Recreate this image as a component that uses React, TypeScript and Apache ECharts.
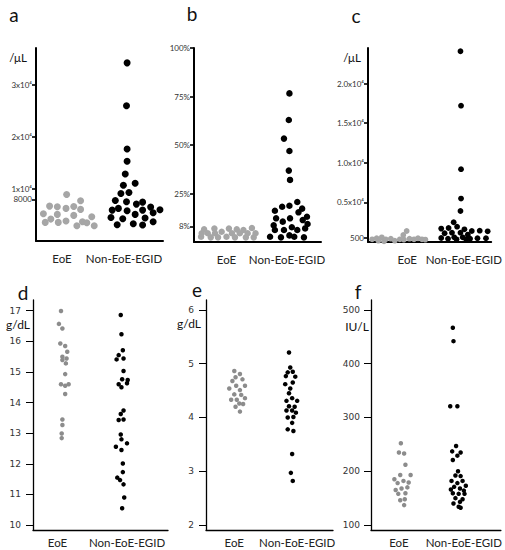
import { useEffect, useRef } from 'react';
import * as echarts from 'echarts';

const categories = ['EoE', 'Non-EoE-EGID'];

// a: leukocytes /uL
const aEoE = [8920, 7700, 6690, 6560, 6630, 6250, 6060, 5220, 5100, 4910, 4650, 4200, 3820, 3570, 3570, 3690, 3500, 2920, 2920];
const aEoEJitter = [0.075, 0.3, -0.2, -0.075, 0.19, 0.065, 0.3, -0.3, -0.075, 0.19, 0.48, -0.18, 0.065, -0.27, -0.06, 0.33, 0.4, 0.24, 0.52];
const aNon = [34150, 25930, 17640, 15290, 12860, 10700, 11080, 9110, 9300, 7770, 7510, 7070, 7450, 5920, 6250, 5790, 5920, 6500, 5980, 4520, 4260, 5100, 4400, 5410, 3120, 3310, 3060, 3690];
const aNonJitter = [0.05, 0.04, 0.05, 0.05, 0.02, -0.01, 0.18, -0.05, 0.08, -0.14, 0.04, 0.2, 0.3, -0.19, -0.09, 0.05, 0.3, 0.43, 0.58, -0.21, -0.02, 0.18, 0.34, 0.47, -0.11, 0.15, 0.3, 0.47];
const aTicks = [8000, 10000, 20000, 30000];
const aTickLabels = ['8000', '1x10⁴', '2x10⁴', '3x10⁴'];

// b: eosinophil %
const bEoE = [2.7, 4.5, 6.5, 4.5, 2.4, 6.9, 4.5, 2.4, 5.3, 2.7, 6.9, 4.5, 2.4, 6.5, 4.5, 6.2, 2.4, 4.5, 7.2, 2.4, 4.5];
const bEoEJitter = [-0.42, -0.41, -0.37, -0.31, -0.26, -0.2, -0.19, -0.14, -0.08, 0, 0.04, 0.09, 0.14, 0.17, 0.22, 0.28, 0.32, 0.35, 0.42, 0.45, 0.48];
const bNon = [76.6, 62.9, 53.3, 46.9, 36.8, 32, 20.6, 18.7, 18.2, 16.1, 17.2, 12.2, 10.5, 12.2, 15.3, 11.3, 13, 9.3, 8.6, 6.2, 6.2, 7.6, 6.2, 7, 2.7, 2.4, 3.4, 2.7, 2.4];
const bNonJitter = [0.04, 0.03, -0.05, 0.04, 0.03, 0.05, 0.17, 0.04, -0.08, -0.2, 0.25, -0.18, -0.07, 0.05, 0.19, 0.26, 0.33, 0.34, -0.22, -0.2, -0.05, 0.08, 0.17, 0.3, -0.28, -0.1, 0.04, 0.12, 0.28];
const bTicks = [8, 25, 50, 75, 100];
const bTickLabels = ['8%', '25%', '50%', '75%', '100%'];

// c: eosinophils /uL
const cEoE = [340, 470, 590, 170, 340, 90, 420, 170, 340, 890, 1390, 420, 340, 470, 340, 300, 300];
const cEoEJitter = [-0.62, -0.54, -0.45, -0.51, -0.38, -0.41, -0.29, -0.22, -0.13, -0.07, -0.01, 0.04, 0.12, 0.19, 0.26, 0.32, -0.06];
const cNon = [24090, 17215, 9200, 5480, 3920, 2490, 1690, 1770, 1940, 1600, 1390, 1430, 1350, 1100, 1180, 1180, 930, 510, 420, 590, 590, 420, 470, 470, 340, 340];
const cNonJitter = [-0.06, -0.05, -0.05, -0.05, -0.06, -0.18, -0.4, -0.27, -0.12, 0.01, 0.14, 0.28, 0.42, -0.34, -0.21, -0.06, 0.07, -0.4, -0.28, -0.17, -0.02, 0.11, 0.24, 0.39, -0.13, 0.04];
const cTicks = [500, 5000, 10000, 15000, 20000];
const cTickLabels = ['500', '0.5x10⁴', '1.0x10⁴', '1.5x10⁴', '2.0x10⁴'];

// d: hemoglobin g/dL
const dEoE = [16.99, 16.57, 16.42, 15.93, 15.85, 15.66, 15.5, 15.44, 15.39, 15.28, 14.93, 14.6, 14.55, 14.6, 14.28, 13.45, 13.27, 12.99, 12.84];
const dEoEJitter = [0.05, 0.02, 0.07, 0.04, 0.11, 0.14, 0.07, 0.13, 0.07, 0.12, 0.11, 0.05, 0.11, 0.16, 0.11, 0.07, 0.07, 0.06, 0.06];
const dNon = [16.86, 16.23, 15.71, 15.55, 15.41, 15.44, 15.03, 14.76, 14.74, 14.6, 14.63, 14.5, 13.74, 13.63, 13.45, 13.43, 12.96, 12.8, 12.67, 12.56, 12.45, 12.01, 11.55, 11.73, 11.47, 11.33, 10.9, 10.55];
const dNonJitter = [-0.09, -0.08, -0.06, -0.12, -0.15, -0.05, -0.05, -0.07, 0.01, -0.12, 0, -0.08, -0.05, -0.09, -0.05, -0.12, -0.09, -0.08, 0, -0.16, -0.08, -0.06, -0.14, -0.06, -0.1, -0.05, -0.04, -0.07];
const dTicks = [10, 11, 12, 13, 14, 15, 16, 17];

// e: albumin g/dL
const eEoE = [4.865, 4.81, 4.68, 4.75, 4.71, 4.54, 4.59, 4.59, 4.51, 4.43, 4.42, 4.36, 4.33, 4.33, 4.26, 4.25, 4.2, 4.11];
const eEoEJitter = [0, 0.09, -0.03, 0.02, 0.13, -0.08, 0.03, 0.17, 0.09, 0, 0.11, 0.17, -0.05, 0.04, 0.08, 0.14, 0.02, 0.09];
const eNon = [5.21, 4.93, 4.84, 4.85, 4.77, 4.76, 4.65, 4.62, 4.54, 4.45, 4.31, 4.36, 4.31, 4.21, 4.2, 4.13, 4.13, 4.09, 4.0, 4.01, 3.9, 3.78, 3.75, 3.32, 2.97, 2.82];
const eNonJitter = [-0.13, -0.11, -0.15, -0.07, -0.18, -0.03, -0.07, -0.19, -0.11, -0.13, -0.17, -0.08, 0, -0.13, -0.04, -0.17, -0.08, -0.02, -0.15, -0.06, -0.08, -0.15, -0.06, -0.08, -0.1, -0.07];
const eTicks = [2, 3, 4, 5, 6];

// f: LDH IU/L
const fEoE = [252, 235, 233, 212, 193, 193, 185, 182, 179, 178, 165, 168, 170, 158, 159, 146, 148, 137];
const fEoEJitter = [0.03, 0, 0.08, 0.1, 0.02, 0.18, -0.07, 0.07, 0.15, -0.02, -0.05, 0.04, 0.13, -0.01, 0.1, 0.02, 0.09, 0.08];
const fNon = [467, 442, 321, 321, 247, 237, 235, 229, 221, 200, 192, 191, 182, 182, 178, 173, 171, 168, 166, 164, 159, 158, 158, 150, 148, 143, 140, 134, 132];
const fNonJitter = [-0.17, -0.16, -0.21, -0.1, -0.12, -0.18, -0.05, -0.1, -0.17, -0.09, -0.13, -0.05, -0.19, -0.02, -0.1, 0.03, -0.15, -0.06, -0.2, 0, -0.17, -0.08, 0.01, -0.13, -0.02, -0.06, -0.16, -0.08, -0.05];
const fTicks = [100, 200, 300, 400, 500];

const topStyle = {
  axisWidth: 2, tickLen: 4, tickFont: 'Lato', tickSize: 8, tickMargin: 4,
  catSize: 11.5, catMargin: 11, dot: 7, gray: '#a6a6a6',
};
const bottomStyle = {
  axisWidth: 1.3, tickLen: 7, tickFont: 'DejaVu Sans', tickSize: 9, tickMargin: 12,
  catSize: 11.5, catMargin: 6, dot: 4.5, gray: '#8c8c8c',
};

type Box = { left: number; top: number; width: number; height: number };

function makePanel(
  idx: number, box: Box, xr: [number, number], yr: [number, number],
  ticks: number[], tickLabels: string[] | null,
  eoe: number[], eoeJ: number[], non: number[], nonJ: number[],
  st: typeof topStyle, dot?: number,
) {
  const size = dot ?? st.dot;
  return {
    grid: { ...box },
    xAxis: {
      type: 'value', gridIndex: idx, min: xr[0], max: xr[1],
      axisLine: { show: true, onZero: false, lineStyle: { color: '#000', width: st.axisWidth } },
      axisTick: { show: false },
      splitLine: { show: false },
      axisLabel: {
        customValues: [0, 1], margin: st.catMargin, color: '#222',
        fontFamily: 'Lato', fontSize: st.catSize,
        formatter: (v: number) => categories[Math.round(v)],
      },
    },
    yAxis: {
      type: 'value', gridIndex: idx, min: yr[0], max: yr[1],
      axisLine: { show: true, onZero: false, lineStyle: { color: '#000', width: st.axisWidth } },
      axisTick: { show: true, customValues: ticks, length: st.tickLen, lineStyle: { color: '#000', width: st.axisWidth * 0.8 } },
      splitLine: { show: false },
      axisLabel: {
        customValues: ticks, margin: st.tickMargin, color: '#333',
        fontFamily: st.tickFont, fontSize: st.tickSize,
        formatter: (v: number) => {
          const i = ticks.indexOf(v);
          return tickLabels && i >= 0 ? tickLabels[i] : String(v);
        },
      },
    },
    series: [
      {
        type: 'scatter', xAxisIndex: idx, yAxisIndex: idx, symbolSize: size,
        itemStyle: { color: st.gray, opacity: 1 },
        data: eoe.map((v, i) => [eoeJ[i], v]),
      },
      {
        type: 'scatter', xAxisIndex: idx, yAxisIndex: idx, symbolSize: size,
        itemStyle: { color: '#000', opacity: 1 },
        data: non.map((v, i) => [1 + nonJ[i], v]),
      },
    ],
  };
}

function text(x: number, y: number, t: string, size: number, family = 'Lato') {
  return {
    type: 'text', x, y,
    style: { text: t, fill: '#111', font: `${size}px ${family}`, align: 'center', verticalAlign: 'middle' },
  };
}

export default function App() {
  const ref = useRef<HTMLDivElement>(null);

  useEffect(() => {
    if (!ref.current) return;
    const chart = echarts.init(ref.current, null, { renderer: 'svg' });

    const panels = [
      makePanel(0, { left: 36, top: 48, width: 127, height: 193 }, [-0.419, 1.629], [0, 37000],
        aTicks, aTickLabels, aEoE, aEoEJitter, aNon, aNonJitter, topStyle, 7),
      makePanel(1, { left: 194, top: 48, width: 127, height: 194 }, [-0.537, 1.562], [0, 100],
        bTicks, bTickLabels, bEoE, bEoEJitter, bNon, bNonJitter, topStyle, 6.5),
      makePanel(2, { left: 368, top: 48, width: 124, height: 194 }, [-0.693, 1.482], [0, 24500],
        cTicks, cTickLabels, cEoE, cEoEJitter, cNon, cNonJitter, topStyle, 5.8),
      makePanel(3, { left: 33, top: 300, width: 135, height: 230 }, [-0.353, 1.59], [9.84, 17.35],
        dTicks, null, dEoE, dEoEJitter, dNon, dNonJitter, bottomStyle),
      makePanel(4, { left: 206, top: 300, width: 127, height: 230 }, [-0.45, 1.57], [1.907, 6.186],
        eTicks, null, eEoE, eEoEJitter, eNon, eNonJitter, bottomStyle),
      makePanel(5, { left: 371, top: 300, width: 131, height: 230 }, [-0.43, 1.57], [90.7, 518.6],
        fTicks, null, fEoE, fEoEJitter, fNon, fNonJitter, { ...bottomStyle, tickMargin: 11 }),
    ];

    chart.setOption({
      animation: false,
      backgroundColor: '#fff',
      grid: panels.map((p) => p.grid),
      xAxis: panels.map((p) => p.xAxis),
      yAxis: panels.map((p) => p.yAxis),
      series: panels.flatMap((p) => p.series),
      graphic: [
        text(14, 14, 'a', 19), text(192, 13, 'b', 19), text(356, 15, 'c', 19),
        text(23, 292, 'd', 19), text(197, 289, 'e', 19), text(358, 291, 'f', 19),
        text(18, 57, '/μL', 11.5), text(352, 57, '/μL', 11.5),
        text(18, 324, 'g/dL', 12), text(189, 323, 'g/dL', 12), text(357, 326, 'IU/L', 12),
      ],
    });

    return () => chart.dispose();
  }, []);

  return (
    <div
      ref={ref}
      style={{ position: 'fixed', left: 0, top: 0, width: 505, height: 550 }}
    />
  );
}
